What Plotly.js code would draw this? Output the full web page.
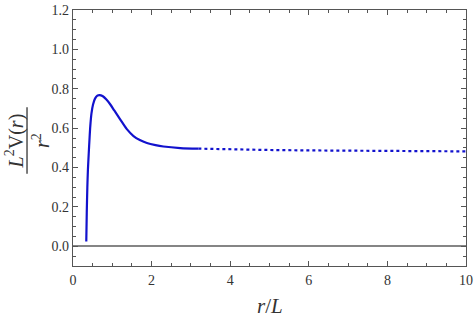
<!DOCTYPE html>
<html>
<head>
<meta charset="utf-8">
<script src="https://cdn.plot.ly/plotly-3.0.1.min.js"></script>
<style>html,body{margin:0;padding:0;background:#fff;}#chart{width:474px;height:321px;}</style>
</head>
<body>
<div id="chart"></div>
<script>
// Solid part of the curve (r/L, L^2 V(r)/r^2)
var rSolid = [0.338, 0.35, 0.365, 0.38, 0.40, 0.42, 0.44, 0.47, 0.51, 0.56, 0.62, 0.676, 0.75, 0.85, 0.95, 1.05, 1.20, 1.37, 1.54, 1.70, 1.88, 2.10, 2.30, 2.73, 3.19];
var vSolid = [0.024, 0.17, 0.30, 0.39, 0.47, 0.545, 0.61, 0.675, 0.72, 0.75, 0.765, 0.768, 0.763, 0.745, 0.72, 0.69, 0.645, 0.595, 0.560, 0.540, 0.525, 0.514, 0.507, 0.499, 0.496];
// Dotted continuation
var rDotted = [3.19, 4, 5, 6, 7, 8, 9, 10];
var vDotted = [0.496, 0.492, 0.489, 0.487, 0.485, 0.484, 0.483, 0.482];
var xTicks = [0, 2, 4, 6, 8, 10];
var yTicks = [0.0, 0.2, 0.4, 0.6, 0.8, 1.0, 1.2];
var xTickText = ['0', '2', '4', '6', '8', '10'];
var yTickText = ['0.0', '0.2', '0.4', '0.6', '0.8', '1.0', '1.2'];

var blue = 'rgb(18,18,205)';
var serif = 'Liberation Serif, Times New Roman, serif';

var traces = [
  {x: rSolid, y: vSolid, mode: 'lines', line: {color: blue, width: 2.2, shape: 'spline', smoothing: 0.8}, hoverinfo: 'none'},
  {x: rDotted, y: vDotted, mode: 'lines', line: {color: blue, width: 2.2, dash: 'dot'}, hoverinfo: 'none'}
];

var axisCommon = {
  showline: true, linecolor: '#555', linewidth: 1.2, mirror: 'allticks',
  ticks: 'inside', ticklen: 5, tickwidth: 1, tickcolor: '#555',
  showgrid: false, tickfont: {family: serif, size: 14, color: '#333'}
};

var layout = {
  width: 474, height: 321,
  margin: {l: 73, r: 8, t: 10, b: 55},
  paper_bgcolor: '#fff', plot_bgcolor: '#fff',
  showlegend: false,
  xaxis: Object.assign({}, axisCommon, {
    range: [0, 10], tickmode: 'array', tickvals: xTicks, ticktext: xTickText,
    zeroline: false, ticklabelstandoff: 1,
    minor: {dtick: 0.5, ticks: 'inside', ticklen: 3, tickcolor: '#555', showgrid: false}
  }),
  yaxis: Object.assign({}, axisCommon, {
    range: [-0.1, 1.2], tickmode: 'array', tickvals: yTicks, ticktext: yTickText,
    zeroline: true, zerolinecolor: '#858585', zerolinewidth: 2,
    minor: {dtick: 0.05, ticks: 'inside', ticklen: 3, tickcolor: '#555', showgrid: false}
  }),
  shapes: [
    {type: 'line', xref: 'paper', yref: 'paper', x0: -0.117, x1: -0.117, y0: 0.36, y1: 0.62, line: {color: '#333', width: 1.3}}
  ],
  annotations: [
    {xref: 'paper', yref: 'paper', x: -0.148, y: 0.49, xanchor: 'center', yanchor: 'middle', textangle: -90, showarrow: false,
     text: '<i>L</i><sup>2</sup>V(<i>r</i>)', font: {family: serif, size: 20, color: '#333'}},
    {xref: 'paper', yref: 'paper', x: -0.083, y: 0.49, xanchor: 'center', yanchor: 'middle', textangle: -90, showarrow: false,
     text: '<i>r</i><sup>2</sup>', font: {family: serif, size: 20, color: '#333'}},
    {xref: 'paper', yref: 'paper', x: 0.501, y: -0.155, xanchor: 'center', yanchor: 'middle', showarrow: false,
     text: '<i>r</i>/<i>L</i>', font: {family: serif, size: 21, color: '#333'}}
  ]
};

Plotly.newPlot('chart', traces, layout, {staticPlot: true, displayModeBar: false});
</script>
</body>
</html>
